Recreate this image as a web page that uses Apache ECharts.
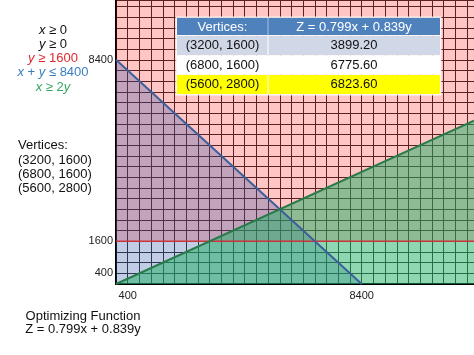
<!DOCTYPE html>
<html><head><meta charset="utf-8">
<script src="https://cdn.jsdelivr.net/npm/echarts@6/dist/echarts.min.js"></script>
<style>html,body{margin:0;padding:0;background:#fff}#c{width:474px;height:355px}</style>
</head><body><div id="c"></div>
<script>
// ---- data ----
const xMax = 12240;
const yMax = 10640;
const xTickLabels = [400, 8400];
const yTickLabels = [400, 1600, 8400];
const redRegion = [[0,1600],[12240,1600],[12240,10640],[0,10640]];
const blueRegion = [[0,0],[8400,0],[0,8400]];
const greenRegion = [[0,0],[12240,0],[12240,6120]];
const redLine = [[0,1600],[12240,1600]];
const blueLine = [[0,8400],[8400,0]];
const greenLine = [[0,0],[12240,6120]];
const tableHeader = ['Vertices:', 'Z = 0.799x + 0.839y'];
const vertices = ['(3200, 1600)', '(6800, 1600)', '(5600, 2800)'];
const zValues = ['3899.20', '6775.60', '6823.60'];
const rowColors = ['#d0d8e8', '#ffffff', '#ffff00'];

const chart = echarts.init(document.getElementById('c'));
const FONT = '"Liberation Sans", Arial, sans-serif';

function polySeries(data, color) {
  return {
    type: 'custom', clip: true, silent: true,
    data: data,
    renderItem: function (params, api) {
      if (params.dataIndex !== 0) return null;
      const pts = data.map(p => api.coord(p));
      return { type: 'polygon', shape: { points: pts }, style: { fill: color } };
    }
  };
}
function lineSeries(data, color, w) {
  return { type: 'line', data: data, showSymbol: false, silent: true,
    lineStyle: { color: color, width: w }, animation: false };
}

// graphic elements
const g = [];
const lx = 53;
const leftLines = [
  ['{i|x} ≥ 0', '#111', 30],
  ['{i|y} ≥ 0', '#111', 44],
  ['{i|y} ≥ 1600', '#e0262c', 58],
  ['{i|x} + {i|y} ≤ 8400', '#3a7ec2', 72],
  ['{i|x} ≥ 2{i|y}', '#35a862', 87]
];
leftLines.forEach(l => {
  g.push({type:'text', z: 100, x: lx, y: l[2], style:{text:l[0], align:'center', verticalAlign:'middle', fontSize:13, fontFamily:FONT, fill:l[1], rich:{i:{fontStyle:'italic', fontSize:13, fontFamily:FONT, fill:l[1]}}}});
});
const vLines = ['Vertices:'].concat(vertices);
const vy = [145, 160, 174, 188];
vLines.forEach((t, i) => {
  g.push({type:'text', z: 100, x: 18, y: vy[i], style:{text:t, align:'left', verticalAlign:'middle', fontSize:13, fontFamily:FONT, fill:'#111'}});
});
g.push({type:'text', z: 100, x: 83, y: 316, style:{text:'Optimizing Function', align:'center', verticalAlign:'middle', fontSize:13, fontFamily:FONT, fill:'#111'}});
g.push({type:'text', z: 100, x: 83, y: 329, style:{text:'Z = 0.799x + 0.839y', align:'center', verticalAlign:'middle', fontSize:13, fontFamily:FONT, fill:'#111'}});

// table
const tx0 = 177, tx1 = 268, tx2 = 440;
const rowsY = [18, 35, 55, 74, 94];
g.push({type:'rect', z: 100, shape:{x: tx0-1.5, y: rowsY[0]-1.5, width: tx2-tx0+3, height: rowsY[4]-rowsY[0]+3}, style:{fill:'#ffffff', opacity:0.85}});
g.push({type:'rect', z: 101, shape:{x: tx0, y: rowsY[0], width: tx2-tx0, height: rowsY[1]-rowsY[0]}, style:{fill:'#4f81bd'}});
g.push({type:'line', z: 102, shape:{x1: tx1, y1: rowsY[0], x2: tx1, y2: rowsY[1]}, style:{stroke:'#a8c0e0', lineWidth:1}});
g.push({type:'text', z: 103, x:(tx0+tx1)/2, y:(rowsY[0]+rowsY[1])/2+0.5, style:{text:tableHeader[0], align:'center', verticalAlign:'middle', fontSize:13, fontFamily:FONT, fill:'#ffffff'}});
g.push({type:'text', z: 103, x:(tx1+tx2)/2, y:(rowsY[0]+rowsY[1])/2+0.5, style:{text:tableHeader[1], align:'center', verticalAlign:'middle', fontSize:13, fontFamily:FONT, fill:'#ffffff'}});
vertices.forEach((v, i) => {
  const y0 = rowsY[i+1] + 1, y1 = rowsY[i+2];
  g.push({type:'rect', z: 101, shape:{x: tx0, y: y0, width: tx2-tx0, height: y1-y0}, style:{fill: rowColors[i]}});
  g.push({type:'line', z: 102, shape:{x1: tx1, y1: y0, x2: tx1, y2: y1}, style:{stroke:'#ffffff', lineWidth:1}});
  g.push({type:'text', z: 103, x:(tx0+tx1)/2, y:(y0+y1)/2, style:{text:v, align:'center', verticalAlign:'middle', fontSize:13, fontFamily:FONT, fill:'#111'}});
  g.push({type:'text', z: 103, x:(tx1+tx2)/2, y:(y0+y1)/2, style:{text:zValues[i], align:'center', verticalAlign:'middle', fontSize:13, fontFamily:FONT, fill:'#111'}});
});

chart.setOption({
  animation: false,
  backgroundColor: '#ffffff',
  grid: { left: 116, right: 0, top: 0, bottom: 71, containLabel: false },
  xAxis: {
    type: 'value', min: 0, max: xMax, interval: 400,
    axisLine: { show: true, onZero: false, lineStyle: { color: '#000', width: 2 } },
    axisTick: { show: false },
    splitLine: { show: true, lineStyle: { color: '#2a2a2a', width: 1 } },
    axisLabel: { margin: 6, fontSize: 11, fontFamily: FONT, color: '#222', showMaxLabel: false,
      formatter: v => xTickLabels.indexOf(v) >= 0 ? String(v) : '' }
  },
  yAxis: {
    type: 'value', min: 0, max: yMax, interval: 400,
    axisLine: { show: true, onZero: false, lineStyle: { color: '#000', width: 2 } },
    axisTick: { show: false },
    splitLine: { show: true, lineStyle: { color: '#2a2a2a', width: 1 } },
    axisLabel: { margin: 3, fontSize: 11, fontFamily: FONT, color: '#222', showMaxLabel: false,
      formatter: v => yTickLabels.indexOf(v) >= 0 ? String(v) : '' }
  },
  series: [
    polySeries(redRegion, 'rgba(255,0,0,0.23)'),
    polySeries(blueRegion, 'rgba(50,90,170,0.3)'),
    lineSeries(redLine, '#c8343a', 1.5),
    lineSeries(blueLine, '#3d5f9a', 2),
    polySeries(greenRegion, 'rgba(30,175,100,0.5)'),
    lineSeries(greenLine, '#2a7a4a', 2)
  ],
  graphic: g
});
</script>
</body></html>
